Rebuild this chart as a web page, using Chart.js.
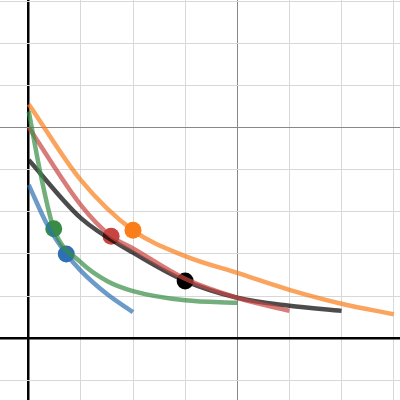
<!DOCTYPE html>
<html>
<head>
<script src="https://cdn.jsdelivr.net/npm/chart.js@4"></script>
<style>html,body{margin:0;padding:0;background:#fff;overflow:hidden}#wrap{width:420px;height:420px;margin:-10px 0 0 -10px}</style>
</head>
<body>
<div id="wrap"><canvas id="c"></canvas></div>
<script>
// curve samples, [x, y]
const orangeX = [0, 1, 2, 3, 4, 5, 6, 7];
const orangeY = [5.55, 3.75, 2.56, 1.95, 1.55, 1.15, 0.82, 0.57];
const redX = [0, 1, 1.58, 2, 3, 4, 5];
const redY = [5.0, 3.16, 2.42, 2.13, 1.41, 0.96, 0.65];
const blackX = [0, 1, 2, 3, 4, 5, 6];
const blackY = [4.23, 2.85, 2.03, 1.36, 0.96, 0.77, 0.65];
const greenX = [0, 0.25, 0.48, 1, 1.5, 2, 3, 4];
const greenY = [5.38, 3.76, 2.6, 1.8, 1.36, 1.12, 0.9, 0.84];
const blueX = [0, 0.36, 0.72, 1, 1.5, 2];
const blueY = [3.64, 2.68, 2.0, 1.6, 1.05, 0.62];

const dotX = [2, 1.58, 3, 0.48, 0.72];
const dotY = [2.56, 2.42, 1.36, 2.6, 2.0];
const dotColors = ['#fa7e19', '#c74440', '#000000', '#388c46', '#2d70b3'];

const gridTicks = [-1, 0, 1, 2, 3, 4, 5, 6, 7, 8];

function pts(xs, ys) { return xs.map((x, i) => ({x: x, y: ys[i]})); }
function curve(xs, ys, color) {
    return {type: 'line', data: pts(xs, ys), borderColor: color, borderWidth: 4.5,
        pointRadius: 0, cubicInterpolationMode: 'monotone', fill: false};
}

const datasets = [
    curve(greenX, greenY, 'rgba(56,140,70,0.7)'),
    curve(blueX, blueY, 'rgba(45,112,179,0.7)'),
    curve(redX, redY, 'rgba(199,68,64,0.7)'),
    curve(orangeX, orangeY, 'rgba(250,126,25,0.7)'),
    curve(blackX, blackY, 'rgba(0,0,0,0.7)'),
    {type: 'scatter', data: pts(dotX, dotY), backgroundColor: dotColors, borderWidth: 0, pointRadius: 8.5}
];

function gridColor(major) {
    return ctx => {
        const v = ctx.tick && ctx.tick.value;
        if (v === 0) return '#000';
        if (v === major) return '#888';
        return '#d8d8d8';
    };
}
function gridWidth(ctx) { return ctx.tick && ctx.tick.value === 0 ? 2.5 : 1; }

new Chart(document.getElementById('c'), {
    type: 'line',
    data: {datasets: datasets},
    options: {
        responsive: true,
        maintainAspectRatio: false,
        animation: false,
        layout: {padding: 0},
        plugins: {legend: {display: false}, tooltip: {enabled: false}},
        scales: {
            x: {
                type: 'linear', min: -0.58, max: 7.15,
                afterBuildTicks: s => { s.ticks = gridTicks.map(v => ({value: v})); },
                ticks: {display: false},
                border: {display: false},
                grid: {color: gridColor(4), lineWidth: gridWidth, drawTicks: false}
            },
            y: {
                type: 'linear', min: -1.5, max: 8.06,
                afterBuildTicks: s => { s.ticks = gridTicks.map(v => ({value: v})); },
                ticks: {display: false},
                border: {display: false},
                grid: {color: gridColor(5), lineWidth: gridWidth, drawTicks: false}
            }
        }
    }
});
</script>
</body>
</html>
